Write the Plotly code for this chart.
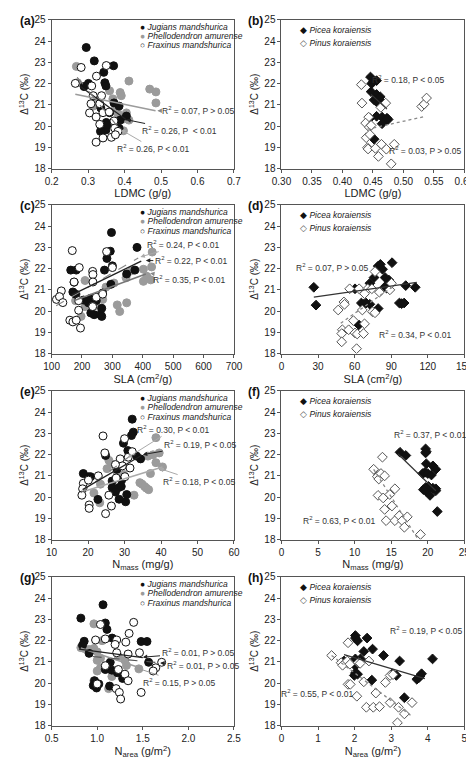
import plotly.graph_objects as go

# ---------------- data ----------------
# (a) LDMC, broadleaf species
a_jug_x = [0.295, 0.317, 0.370, 0.343, 0.346, 0.349, 0.289, 0.301, 0.335, 0.371, 0.385, 0.359,
           0.405, 0.388, 0.350, 0.349, 0.334, 0.385, 0.352]
a_jug_y = [23.70, 23.07, 22.84, 22.53, 22.04, 21.89, 21.86, 22.01, 20.85, 21.09, 20.94, 20.63,
           20.47, 20.28, 20.17, 19.82, 19.75, 19.90, 20.05]
a_phe_x = [0.268, 0.271, 0.412, 0.359, 0.388, 0.391, 0.469, 0.486, 0.486, 0.314, 0.382, 0.405,
           0.397, 0.412, 0.397, 0.323, 0.368, 0.373]
a_phe_y = [22.81, 22.04, 22.12, 21.66, 21.58, 21.43, 21.74, 21.61, 21.09, 20.94, 20.59, 20.62,
           20.33, 20.28, 19.78, 21.20, 21.28, 20.74]
a_fra_x = [0.281, 0.350, 0.323, 0.265, 0.310, 0.314, 0.337, 0.308, 0.332, 0.304, 0.322, 0.341,
           0.358, 0.371, 0.332, 0.373, 0.382, 0.364, 0.375, 0.341, 0.322]
a_fra_y = [22.76, 22.85, 22.35, 22.01, 21.89, 21.43, 21.43, 21.05, 21.05, 20.62, 20.43, 20.63,
           20.66, 20.24, 20.08, 19.90, 19.75, 19.47, 19.59, 19.44, 19.24]
a_jug_fit = ([0.28, 0.405], [21.85, 20.30])
a_phe_fit = ([0.265, 0.485], [21.50, 20.72])
a_fra_fit = ([0.27, 0.388], [22.30, 19.83])

# (b) LDMC, conifers
b_pic_x = [0.446, 0.448, 0.451, 0.456, 0.447, 0.456, 0.462, 0.452, 0.456, 0.461, 0.467, 0.445,
           0.456, 0.465, 0.473, 0.475, 0.471, 0.465, 0.452, 0.460]
b_pic_y = [22.31, 22.00, 22.11, 22.14, 21.62, 21.49, 21.38, 21.23, 21.14, 21.14, 21.06, 20.37,
           20.46, 20.42, 20.37, 20.31, 20.26, 20.11, 19.38, 21.29]
b_pin_x = [0.431, 0.432, 0.443, 0.438, 0.444, 0.447, 0.439, 0.445, 0.441, 0.442, 0.454, 0.464,
           0.459, 0.472, 0.485, 0.480, 0.471, 0.463, 0.530, 0.534, 0.538]
b_pin_y = [21.95, 21.08, 20.42, 20.14, 19.95, 20.03, 19.45, 19.60, 18.98, 18.92, 18.95, 19.14,
           18.57, 18.91, 19.14, 18.22, 21.08, 20.88, 20.92, 21.03, 21.32]
b_pic_fit = ([0.447, 0.473], [21.49, 20.80])
b_pin_fit = ([0.441, 0.535], [19.85, 20.45])

# (c) SLA, broadleaf species
c_jug_x = [297, 293, 282, 381, 163, 181, 274, 300, 374, 347, 174, 170, 179, 229, 221, 247, 268,
           295, 229, 240, 261, 265, 265, 205]
c_jug_y = [23.70, 22.82, 22.48, 23.00, 21.93, 21.93, 21.93, 22.13, 21.93, 21.75, 21.36, 20.90,
           20.79, 20.60, 20.39, 20.49, 20.85, 21.26, 19.91, 19.83, 19.83, 20.13, 19.75, 20.52]
c_phe_x = [431, 429, 402, 413, 426, 363, 345, 305, 279, 210, 179, 181, 210, 197, 261, 316, 324,
           347, 268, 402, 230]
c_phe_y = [22.78, 22.08, 21.97, 21.64, 21.47, 21.90, 21.57, 21.32, 21.13, 21.44, 20.49, 20.80,
           20.21, 19.75, 20.13, 20.29, 19.98, 20.39, 20.55, 21.40, 20.60]
c_fra_x = [168, 281, 191, 235, 236, 236, 174, 132, 116, 126, 137, 189, 235, 247, 268, 189, 160,
           170, 181, 195, 300]
c_fra_y = [22.85, 22.80, 22.05, 21.87, 21.72, 21.37, 21.37, 20.95, 20.55, 20.68, 20.40, 20.49,
           20.21, 20.65, 20.80, 20.04, 19.57, 19.49, 19.57, 19.20, 22.05]
c_jug_fit = ([165, 395], [20.75, 22.35])
c_phe_fit = ([175, 410], [20.50, 21.75])
c_fra_fit = ([115, 385], [20.25, 22.50])

# (d) SLA, conifers
d_pic_x = [26.5, 28.3, 60.3, 65.5, 67.3, 69.4, 72.5, 63.4, 79.3, 72.5, 75.9, 79.3, 81.1, 82.9,
           85.0, 88.1, 85.0, 86.3, 90.7, 96.7, 98.5, 100.6, 101.9, 109.7]
d_pic_y = [21.12, 20.28, 21.05, 20.38, 20.32, 20.38, 20.32, 19.35, 20.12, 21.31, 21.58, 22.12,
           22.20, 21.97, 21.58, 21.46, 21.15, 21.08, 22.28, 20.38, 20.35, 20.38, 21.20, 21.12]
d_pin_x = [46.5, 51.2, 51.7, 49.9, 49.4, 49.4, 55.1, 59.0, 60.3, 62.1, 61.6, 63.7, 66.3, 68.1,
           67.3, 70.7, 74.1, 74.6, 76.7, 76.7, 80.3, 88.9, 90.2, 55.9, 68.1]
d_pin_y = [20.05, 20.43, 20.32, 19.12, 18.94, 18.55, 19.12, 19.55, 18.97, 18.92, 18.23, 21.05,
           20.05, 19.40, 18.94, 21.05, 21.05, 19.97, 19.92, 21.86, 20.89, 21.00, 21.31, 21.05, 20.82]
d_pic_fit = ([26.5, 111], [20.66, 21.35])
d_pin_fit = ([48.6, 90], [19.43, 21.10])

# (e) Nmass, broadleaf species
e_jug_x = [32.1, 32.4, 31.9, 29.7, 24.8, 30.9, 32.1, 33.3, 34.4, 18.7, 20.1, 20.7, 27.9, 26.6,
           26.6, 28.4, 29.1, 27.5, 29.2, 22.7, 30.6, 30.3, 28.5]
e_jug_y = [23.67, 23.06, 22.90, 22.54, 21.96, 22.19, 22.11, 21.93, 21.80, 21.11, 20.96, 20.96,
           21.31, 20.76, 20.45, 20.45, 20.50, 20.24, 20.80, 19.89, 20.12, 19.78, 19.90]
e_phe_x = [38.6, 25.7, 26.4, 25.2, 36.4, 37.8, 39.5, 38.6, 40.4, 37.1, 34.2, 34.8, 35.5, 36.0,
           36.6, 32.6, 23.4, 21.6, 23.2, 29.7, 27.9]
e_phe_y = [22.80, 21.73, 21.57, 21.34, 21.93, 21.99, 22.08, 21.62, 21.42, 21.11, 20.68, 20.61,
           20.50, 20.42, 20.35, 20.09, 20.61, 20.19, 19.73, 21.07, 21.19]
e_fra_x = [24.1, 24.6, 30.0, 28.8, 31.0, 32.1, 31.5, 29.4, 27.5, 22.8, 18.7, 20.1, 18.5, 18.3,
           27.7, 30.1, 25.7, 26.4, 20.3, 20.3, 24.8]
e_fra_y = [22.88, 22.08, 22.75, 21.80, 21.88, 22.14, 21.37, 21.47, 21.53, 21.00, 20.65, 20.80,
           20.39, 20.09, 20.90, 20.96, 20.09, 19.58, 19.63, 19.47, 19.22]
e_jug_fit = ([18.5, 34.6], [20.35, 21.96])
e_phe_fit = ([19.4, 40.4], [20.30, 21.42])
e_fra_fit = ([18.0, 32.0], [20.20, 22.00])

# (f) Nmass, conifers
f_pic_x = [16.2, 17.0, 19.7, 19.8, 19.7, 19.8, 20.7, 19.6, 19.3, 20.0, 20.5, 21.1, 20.1, 20.7,
           21.1, 21.1, 19.7, 19.8, 20.3, 21.3, 19.4]
f_pic_y = [22.11, 21.96, 22.27, 22.14, 22.08, 21.57, 21.47, 21.16, 21.11, 21.11, 21.04, 21.31,
           20.50, 20.42, 20.39, 20.30, 20.45, 20.27, 20.08, 19.32, 20.35]
f_pin_x = [13.8, 12.6, 13.3, 13.1, 13.3, 13.6, 14.1, 13.2, 13.9, 15.5, 14.8, 14.1, 15.1, 14.3,
           15.5, 16.1, 16.5, 17.2, 16.8, 19.0]
f_pin_y = [21.88, 21.31, 21.07, 20.96, 20.85, 21.11, 21.00, 20.08, 19.96, 20.39, 20.12, 19.42,
           19.58, 18.89, 18.89, 19.12, 18.89, 19.07, 18.58, 18.24]
f_pic_fit = ([15.9, 21.1], [22.04, 20.30])
f_pin_fit = ([12.6, 18.7], [21.31, 18.00])

# (g) Narea, broadleaf species
g_jug_x = [1.064, 0.821, 1.089, 1.107, 0.857, 1.164, 0.839, 0.911, 1.482, 1.546, 1.564, 1.143,
           1.089, 1.161, 1.221, 1.279, 0.971, 0.957, 1.018, 0.993, 1.136]
g_jug_y = [23.69, 23.06, 22.83, 22.53, 21.97, 22.12, 21.78, 21.40, 21.96, 21.96, 20.98, 20.98,
           20.64, 20.61, 20.49, 20.22, 20.11, 19.89, 19.96, 19.77, 19.86]
g_phe_x = [0.964, 0.821, 0.857, 0.911, 0.964, 1.054, 1.000, 1.036, 1.000, 1.036, 1.000, 1.161,
           1.161, 1.304, 1.321, 1.457, 0.964, 1.125, 1.232]
g_phe_y = [22.79, 21.67, 21.63, 21.58, 21.63, 22.00, 21.47, 21.17, 21.07, 20.72, 20.57, 20.57,
           20.31, 21.07, 20.83, 20.67, 20.11, 19.74, 21.25]
g_fra_x = [1.036, 1.400, 1.350, 1.214, 1.314, 1.196, 1.089, 0.982, 1.464, 1.214, 1.339, 1.707,
           1.643, 1.614, 1.089, 1.232, 1.304, 1.339, 1.000, 1.207, 1.482, 1.243, 1.257]
g_fra_y = [22.76, 22.86, 22.34, 22.03, 21.93, 21.82, 22.08, 22.03, 21.43, 21.43, 21.37, 20.98,
           20.72, 20.57, 20.82, 20.64, 20.42, 20.11, 19.96, 19.74, 19.56, 19.56, 19.25]
g_jug_fit = ([0.80, 1.50], [21.60, 21.20])
g_phe_fit = ([0.82, 1.45], [21.65, 20.75])
g_fra_fit = ([0.95, 1.70], [21.25, 20.95])

# (h) Narea, conifers
h_pic_x = [2.02, 2.02, 2.08, 2.34, 2.25, 2.49, 2.02, 1.71, 2.16, 2.02, 2.02, 2.08, 1.99, 2.47,
           2.79, 3.23, 3.03, 3.14, 3.36, 3.75, 3.79, 3.83, 3.70, 4.13]
h_pic_y = [22.24, 22.12, 21.99, 22.12, 21.49, 21.60, 21.14, 21.04, 21.14, 20.81, 20.48, 20.42,
           20.36, 20.14, 21.30, 21.04, 20.44, 20.36, 19.31, 20.24, 20.33, 20.44, 20.18, 21.14]
h_pin_x = [1.37, 1.82, 1.63, 1.67, 1.80, 1.87, 2.10, 2.15, 2.39, 1.82, 1.88, 2.25, 2.06, 2.84,
           2.97, 3.05, 2.58, 2.32, 2.51, 2.68, 2.97, 3.20, 3.36, 3.57, 3.17]
h_pin_y = [21.30, 21.90, 20.96, 20.84, 21.04, 20.89, 20.96, 20.93, 21.04, 19.94, 19.94, 20.06,
           19.38, 20.03, 20.36, 20.40, 19.53, 18.86, 18.86, 18.89, 19.08, 18.86, 18.55, 19.08, 18.13]
h_pic_fit = ([1.71, 3.92], [21.34, 20.21])
h_pin_fit = ([1.37, 3.53], [21.30, 18.48])

FONT = "Liberation Sans, Arial, sans-serif"
W, H = 474, 758

# plot areas in pixels of the 474x758 page
LEFT = [35 / W, 225 / W]
RIGHT = [274.5 / W, 465 / W]
ROW_PX = [(6, 157), (194, 345), (383, 534), (572, 723)]
ROWS = [[1 - b / H, 1 - t / H] for t, b in ROW_PX]

fig = go.Figure()


def refs(n):
    return ("x" if n == 1 else "x%d" % n), ("y" if n == 1 else "y%d" % n)


def pts(n, x, y, style):
    xr, yr = refs(n)
    sym, fill, edge, size = style
    fig.add_trace(go.Scatter(x=x, y=y, mode="markers", xaxis=xr, yaxis=yr, showlegend=False,
                             marker=dict(symbol=sym, color=fill, size=size,
                                         line=dict(color=edge, width=1))))


def fit(n, xy, color, dash, width):
    xr, yr = refs(n)
    fig.add_trace(go.Scatter(x=xy[0], y=xy[1], mode="lines", xaxis=xr, yaxis=yr,
                             showlegend=False, line=dict(color=color, dash=dash, width=width)))


JUG = ("circle", "#111111", "#111111", 8)
PHE = ("circle", "#9b9b9b", "#9b9b9b", 8)
FRA = ("circle", "white", "#111111", 8)
PIC = ("diamond", "#111111", "#111111", 7.5)
PIN = ("diamond", "white", "#555555", 7.5)

notes = []


def r2(n, text, tx, ty, hx=None, hy=None, color="#333333"):
    xr, yr = refs(n)
    a = dict(text=text, xref=xr, yref=yr, font=dict(family=FONT, size=8.5, color="#333333"))
    if hx is None:
        a.update(x=tx, y=ty, showarrow=False)
    else:
        a.update(x=hx, y=hy, ax=tx, ay=ty, axref=xr, ayref=yr, showarrow=True,
                 arrowhead=2, arrowsize=0.9, arrowwidth=1, arrowcolor=color, standoff=0)
    notes.append(a)


R = "R<sup>2</sup> = "

# (a)
pts(1, a_phe_x, a_phe_y, PHE); pts(1, a_jug_x, a_jug_y, JUG); pts(1, a_fra_x, a_fra_y, FRA)
fit(1, a_phe_fit, "#9b9b9b", "solid", 1.5)
fit(1, a_jug_fit, "#222222", "solid", 1.3)
fit(1, a_fra_fit, "#777777", "dash", 1.1)
r2(1, R + "0.07, P > 0.05", 0.60, 20.71, 0.49, 20.72, "#888888")
r2(1, R + "0.26, P  < 0.01", 0.55, 19.79, 0.405, 20.30, "#222222")
r2(1, R + "0.26, P < 0.01", 0.479, 18.94, 0.39, 19.83, "#aaaaaa")

# (b)
pts(2, b_pic_x, b_pic_y, PIC); pts(2, b_pin_x, b_pin_y, PIN)
fit(2, b_pic_fit, "#333333", "solid", 1.2)
fit(2, b_pin_fit, "#888888", "dot", 1.3)
r2(2, R + "0.18, P < 0.05", 0.507, 22.18)
r2(2, R + "0.03, P > 0.05", 0.535, 18.83)

# (c)
pts(3, c_phe_x, c_phe_y, PHE); pts(3, c_jug_x, c_jug_y, JUG); pts(3, c_fra_x, c_fra_y, FRA)
fit(3, c_fra_fit, "#888888", "dash", 1.1)
fit(3, c_jug_fit, "#222222", "solid", 1.3)
fit(3, c_phe_fit, "#777777", "solid", 1.5)
r2(3, R + "0.24, P < 0.01", 532, 23.13, 392, 22.55, "#aaaaaa")
r2(3, R + "0.22, P < 0.01", 558, 22.36, 410, 22.38, "#222222")
r2(3, R + "0.35, P < 0.01", 553, 21.51, 424, 21.78, "#888888")

# (d)
pts(4, d_pic_x, d_pic_y, PIC); pts(4, d_pin_x, d_pin_y, PIN)
fit(4, d_pic_fit, "#333333", "solid", 1.2)
fit(4, d_pin_fit, "#888888", "dot", 1.3)
r2(4, R + "0.07, P > 0.05", 41.3, 22.05)
r2(4, R + "0.34, P < 0.01", 109.7, 18.90)

# (e)
pts(5, e_phe_x, e_phe_y, PHE); pts(5, e_jug_x, e_jug_y, JUG); pts(5, e_fra_x, e_fra_y, FRA)
fit(5, e_phe_fit, "#aaaaaa", "solid", 1.5)
fit(5, e_fra_fit, "#777777", "dash", 1.1)
fit(5, e_jug_fit, "#222222", "solid", 1.3)
r2(5, R + "0.30, P < 0.01", 43.2, 23.19, 30.8, 21.85, "#aaaaaa")
r2(5, R + "0.19, P < 0.05", 50.7, 22.47, 35.0, 22.0, "#222222")
r2(5, R + "0.18, P < 0.05", 50.3, 20.73, 39.5, 21.35, "#aaaaaa")

# (f)
pts(6, f_pic_x, f_pic_y, PIC); pts(6, f_pin_x, f_pin_y, PIN)
fit(6, f_pic_fit, "#333333", "solid", 1.2)
fit(6, f_pin_fit, "#888888", "dot", 1.3)
r2(6, R + "0.37, P < 0.01", 20.3, 22.93)
r2(6, R + "0.63, P < 0.01", 7.8, 18.89)

# (g)
pts(7, g_phe_x, g_phe_y, PHE); pts(7, g_jug_x, g_jug_y, JUG); pts(7, g_fra_x, g_fra_y, FRA)
fit(7, g_phe_fit, "#9b9b9b", "solid", 1.5)
fit(7, g_fra_fit, "#555555", "dash", 1.1)
fit(7, g_jug_fit, "#222222", "solid", 1.3)
r2(7, R + "0.01, P > 0.05", 2.10, 21.43, 1.50, 21.22, "#222222")
r2(7, R + "0.01, P > 0.05", 2.16, 20.82, 1.69, 20.95, "#222222")
r2(7, R + "0.15, P > 0.05", 1.90, 20.04, 1.43, 20.72, "#999999")

# (h)
pts(8, h_pic_x, h_pic_y, PIC); pts(8, h_pin_x, h_pin_y, PIN)
fit(8, h_pic_fit, "#333333", "solid", 1.2)
fit(8, h_pin_fit, "#888888", "dot", 1.3)
r2(8, R + "0.19, P < 0.05", 3.95, 22.47)
r2(8, R + "0.55, P < 0.01", 0.98, 19.53)

# axes
x_titles = ["LDMC (g/g)", "LDMC (g/g)", "SLA (cm<sup>2</sup>/g)", "SLA (cm<sup>2</sup>/g)",
            "N<sub>mass</sub> (mg/g)", "N<sub>mass</sub> (mg/g)",
            "N<sub>area</sub> (g/m<sup>2</sup>)", "N<sub>area</sub> (g/m<sup>2</sup>)"]
x_ranges = [(0.2, 0.7, 0.1, ".1f"), (0.30, 0.60, 0.05, ".2f"), (100, 700, 100, "d"),
            (0, 150, 30, "d"), (10, 60, 10, "d"), (0, 25, 5, "d"), (0.5, 2.5, 0.5, ".1f"),
            (0, 5, 1, "d")]
tick_font = dict(family=FONT, size=10, color="#222222")
layout = {}
for i in range(8):
    n = i + 1
    key = "" if n == 1 else str(n)
    lo, hi, step, fmt = x_ranges[i]
    common = dict(showline=True, linecolor="#555555", linewidth=1, mirror=True,
                  ticks="outside", ticklen=3, tickcolor="#555555", showgrid=False,
                  zeroline=False, tickfont=tick_font)
    layout["xaxis" + key] = dict(common, domain=LEFT if i % 2 == 0 else RIGHT,
                                 range=[lo, hi], dtick=step, tick0=lo, tickformat=fmt,
                                 anchor="y" + key,
                                 title=dict(text=x_titles[i], standoff=0,
                                            font=dict(family=FONT, size=11, color="#222222")))
    layout["yaxis" + key] = dict(common, domain=ROWS[i // 2], range=[18, 25], dtick=1,
                                 anchor="x" + key,
                                 title=dict(text="Δ<sup>13</sup>C (‰)", standoff=3,
                                            font=dict(family=FONT, size=10, color="#222222")))

# panel letters
letters = ["(a)", "(b)", "(c)", "(d)", "(e)", "(f)", "(g)", "(h)"]
for i, t in enumerate(letters):
    top = ROW_PX[i // 2][0]
    notes.append(dict(text="<b>%s</b>" % t, xref="paper", yref="paper",
                      x=(0 if i % 2 == 0 else 237) / W, y=1 - (top + 1) / H,
                      xanchor="left", yanchor="middle", showarrow=False,
                      font=dict(family=FONT, size=12, color="#111111")))

# legends drawn as text inside each panel
broad = ['<span style="color:#111111">●</span> <i>Jugians mandshurica</i>',
         '<span style="color:#9b9b9b">●</span> <i>Phellodendron amurense</i>',
         '<span style="color:#111111">○</span> <i>Fraxinus mandshurica</i>']
conif = ['<span style="color:#111111">◆</span> <i>Picea koraiensis</i>',
         '<span style="color:#555555">◇</span> <i>Pinus koraiensis</i>']
for r in range(4):
    top = ROW_PX[r][0]
    for k, t in enumerate(broad):
        notes.append(dict(text=t, xref="paper", yref="paper", x=125 / W,
                          y=1 - (top + 7 + 9.5 * k) / H, xanchor="left", yanchor="middle",
                          showarrow=False, font=dict(family=FONT, size=8.5, color="#222222")))
    for k, t in enumerate(conif):
        notes.append(dict(text=t, xref="paper", yref="paper", x=292 / W,
                          y=1 - (top + 10 + 13 * k) / H, xanchor="left", yanchor="middle",
                          showarrow=False, font=dict(family=FONT, size=8.5, color="#222222")))

fig.update_layout(width=W, height=H, margin=dict(l=0, r=0, t=0, b=0),
                  paper_bgcolor="white", plot_bgcolor="white",
                  font=dict(family=FONT, size=10, color="#222222"),
                  annotations=notes, **layout)

fig.write_html("out.html")
